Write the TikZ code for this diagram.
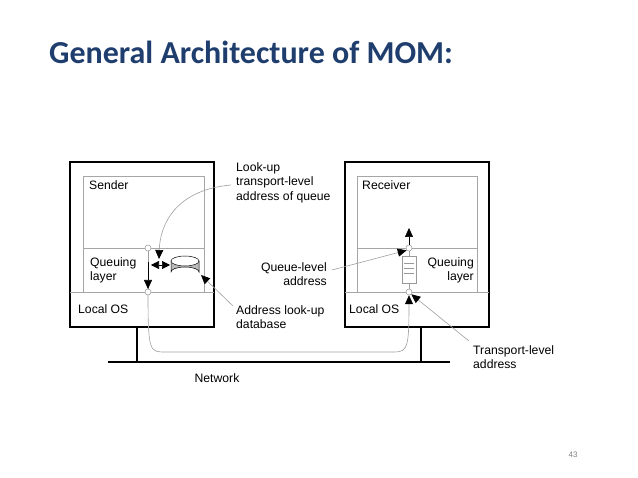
\documentclass[tikz,border=0pt]{standalone}
\usepackage{fontspec}
\setmainfont{Liberation Sans}
\newfontfamily\titlefont{Carlito}
\usetikzlibrary{arrows.meta,shapes.geometric}
\definecolor{titleblue}{HTML}{1F3E6E}
\begin{document}
\begin{tikzpicture}[x=1pt,y=-1pt,
  box/.style={draw=black,line width=1.1pt},
  inner/.style={draw=gray!70,line width=0.6pt},
  lbl/.style={font=\fontsize{12.2}{14.5}\selectfont,inner sep=0pt,align=left},
  gline/.style={draw=gray!75,line width=0.6pt},
  port/.style={circle,draw=gray!80,fill=white,minimum size=6pt,inner sep=0pt,line width=0.5pt},
  tip/.style={-{Triangle[length=9pt,width=8pt,color=black]}},
  net/.style={line width=1.6pt}]
\useasboundingbox (0,0) rectangle (638,478);
\node[anchor=west,font=\titlefont\bfseries\fontsize{32}{34}\selectfont,text=titleblue,inner sep=0pt] (title) at (49,52) {General Architecture of MOM:};
\node[font=\fontsize{8}{9}\selectfont,text=gray,inner sep=0pt] (pg) at (573,455) {43};
% network
\coordinate (nl) at (108,362); \coordinate (nr) at (450,362);
\draw[net] (nl) -- (nr);
\node[lbl] (netlbl) at (217,378) {Network};
% left host
\draw[box] (70,162) rectangle (214,327);
\draw[inner] (83,176) rectangle (204,292);
\draw[inner] (83,248) -- (204,248);
\draw[inner] (70,292) -- (214,292);
\coordinate (ls1) at (137,327); \coordinate (ls2) at (137,362);
\draw[net] (ls1) -- (ls2);
\node[lbl,anchor=north west] (sender) at (89,180) {Sender};
\node[lbl,anchor=north west] (ql) at (90,257) {Queuing\\layer};
\node[lbl,anchor=north west] (los) at (78,304) {Local OS};
% right host
\draw[box] (345,162) rectangle (489,327);
\draw[inner] (357,176) rectangle (477,292);
\draw[inner] (357,248) -- (477,248);
\draw[inner] (345,292) -- (489,292);
\coordinate (rs1) at (421,327); \coordinate (rs2) at (421,362);
\draw[net] (rs1) -- (rs2);
\node[lbl,anchor=north west] (receiver) at (362,180) {Receiver};
\node[lbl,anchor=north east,align=right] (qr) at (474,257) {Queuing\\layer};
\node[lbl,anchor=north west] (ros) at (349,304) {Local OS};
% sender queuing internals
\node[port] (p1) at (148,248) {};
\node[port] (p2) at (148,292) {};
\coordinate (dn) at (148,289);
\draw[gline] (p1) -- (p2);
\draw[tip,line width=0.6pt] (148,262) -- (dn);
% cylinder database
\coordinate (db) at (185,266);
\fill[gray!55,draw=black,line width=0.5pt] (171,261) -- (171,272) arc[start angle=180,end angle=360,x radius=14,y radius=5] -- (199,261);
\draw[fill=white,line width=0.5pt] (185,261) ellipse[x radius=14,y radius=5];
\coordinate (ha) at (151,265); \coordinate (hb) at (170,265);
\draw[{Triangle[length=8pt,width=8pt]}-{Triangle[length=8pt,width=8pt]},line width=0.6pt] (ha) -- (hb);
% receiver queuing internals
\node[port] (q1) at (409,248) {};
\node[port] (q2) at (409,292) {};
\draw[gline] (q1) -- (q2);
\node[draw=gray!80,fill=white,minimum width=14pt,minimum height=27pt,inner sep=0pt,line width=0.5pt] (queue) at (409,270) {};
\foreach \yy in {263,268,273} \draw[gray!80,line width=0.5pt] (404,\yy) -- (414,\yy);
\coordinate (up) at (409,228);
\draw[tip,line width=0.6pt] (q1) -- (up);
% network path
\draw[gline,tip] (p2) .. controls (148,352) and (150,352) .. (165,352) -- (395,352) .. controls (408,352) and (409,345) .. (q2.south);
% labels & callouts
\node[lbl,anchor=north west] (lookup) at (236,162) {Look-up\\transport-level\\address of queue};
\node[lbl,anchor=north east,align=right] (qla) at (327,262) {Queue-level\\address};
\node[lbl,anchor=north west] (alu) at (236,305) {Address look-up\\database};
\node[lbl,anchor=north west] (tla) at (473,345) {Transport-level\\address};
\draw[gline,tip] (231,185) .. controls (175,190) and (160,225) .. (159,259);
\draw[gline,tip] (332,270) -- (q1.south west);
\draw[gline,tip] (233,306) -- (201,275);
\draw[gline,tip] (469,341) -- (q2.south east);
\end{tikzpicture}
\end{document}
